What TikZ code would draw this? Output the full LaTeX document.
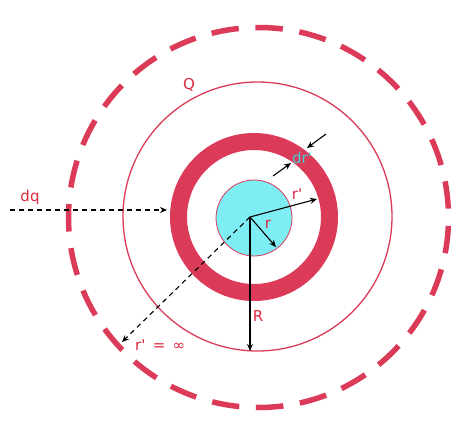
\documentclass[tikz,border=0pt]{standalone}
\usepackage{fontspec}
\setmainfont{DejaVu Sans}
\newfontfamily\plainfont{DejaVu Sans}[Ligatures=ResetAll]
\newcommand{\prm}{{\plainfont\symbol{39}}}
\usetikzlibrary{arrows.meta}
\definecolor{crim}{RGB}{219,58,88}
\definecolor{txtred}{RGB}{224,38,58}
\definecolor{cyfill}{RGB}{125,238,244}
\definecolor{cytext}{RGB}{70,205,215}
\begin{document}
\begin{tikzpicture}[x=1pt,y=-1pt,
  arr/.style={-{Stealth[length=7pt,width=6pt]}, line width=1.1pt, black},
  darr/.style={arr, dash pattern=on 5pt off 4pt},
  lbl/.style={text=txtred, font=\fontsize{15}{17}\selectfont, inner sep=0pt},
  clbl/.style={text=cytext, font=\fontsize{15}{17}\selectfont, inner sep=0pt}]
\useasboundingbox (0,0) rectangle (474,429);
% outer dashed circle
\draw[crim, line width=5.5pt, dash pattern=on 27.5pt off 16.7pt, dash phase=35.85pt]
  (258.5,217.5) circle[radius=190];
% thin circle Q
\draw[crim, line width=1.3pt] (257.5,216.5) circle[radius=134.5];
% thick ring
\draw[crim, line width=17pt] (254,217) circle[radius=75.5];
% inner cyan sphere
\draw[crim, line width=0.8pt, fill=cyfill] (254,218) circle[radius=38];
% coordinates
\coordinate (c) at (250,217);
\coordinate (rp) at (317,199);
\coordinate (rr) at (276,247);
\coordinate (RR) at (250,351);
\coordinate (inf) at (122,342);
\coordinate (dqs) at (10,210);
\coordinate (dqe) at (167,210);
\coordinate (d1s) at (326,134);
\coordinate (d1e) at (307,148);
\coordinate (d2s) at (273,176);
\coordinate (d2e) at (291,163);
% arrows
\draw[arr] (c) -- (rp);
\draw[arr] (c) -- (rr);
\draw[arr] (c) -- (RR);
\draw[darr] (c) -- (inf);
\draw[darr] (dqs) -- (dqe);
\draw[arr] (d1s) -- (d1e);
\draw[arr] (d2s) -- (d2e);
% labels
\node[lbl] (lQ) at (189,85) {Q};
\node[lbl] (ldq) at (30,197) {dq};
\node[lbl] (lrp) at (297,194) {r\prm};
\node[lbl] (lr) at (268,224) {r};
\node[lbl] (lR) at (258,316) {R};
\node[lbl, anchor=west] (linf) at (135,345) {r\prm\, = \,∞};
\node[clbl] (ldr) at (302,158) {dr\prm};
\end{tikzpicture}
\end{document}
